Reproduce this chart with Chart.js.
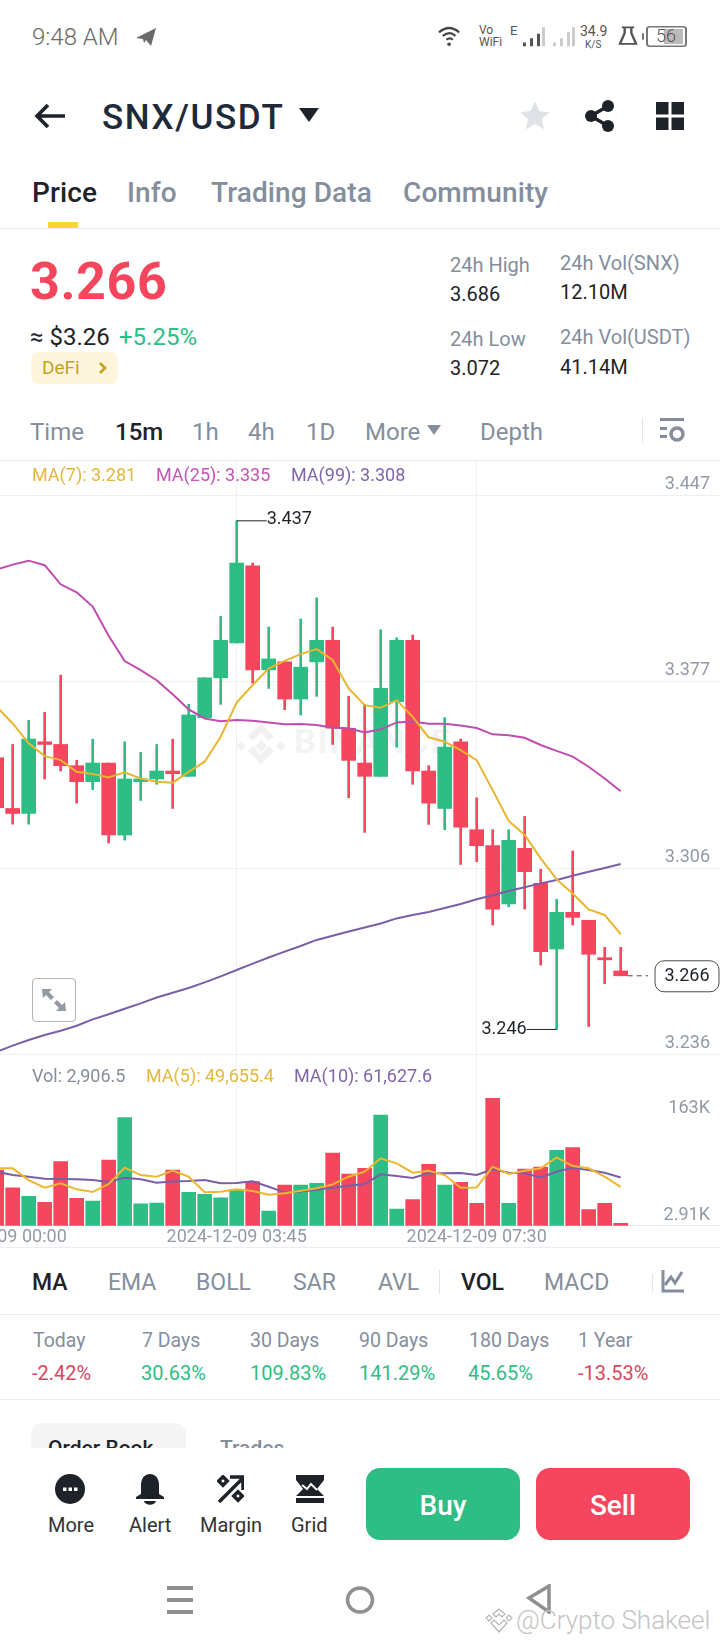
<!DOCTYPE html>
<html>
<head>
<meta charset="utf-8">
<title>SNX/USDT</title>
<script src="https://cdn.jsdelivr.net/npm/chart.js@4/dist/chart.umd.js"></script>
<style>
html,body{margin:0;padding:0;background:#fff}
body{position:relative;width:720px;height:1640px;overflow:hidden;font-family:Roboto,sans-serif;color:#1e2329}
.t{position:absolute;white-space:nowrap;transform:translateY(-50%);line-height:1.1}
.g{color:#848e9c}
.hl{position:absolute;left:0;width:720px;height:1px;background:#eaecef}
.ic{position:absolute}
.up{color:#2ebd85}
.dn{color:#d9475f}
canvas{position:absolute;left:0}
</style>
</head>
<body>

<!-- status bar -->
<div class="t" style="left:32px;top:37px;font-size:24px;color:#6a6a6a;font-weight:300">9:48 AM</div>
<svg class="ic" style="left:135px;top:26px" width="22" height="22" viewBox="0 0 22 22"><path d="M1 12 21 2 16 20 11 14 9 17 8 13z" fill="#6a6a6a"/></svg>
<svg class="ic" style="left:436px;top:25px" width="28" height="22" viewBox="0 0 28 24" fill="none" stroke="#444" stroke-width="2.4"><path d="M2 8c7-6 15-6 22 0M6 12c5-4 10-4 14 0M10 16c3-2 5-2 7 0"/><circle cx="13" cy="21" r="2" fill="#444" stroke="none"/></svg>
<div class="t" style="left:479px;top:31px;font-size:12px;color:#555">Vo</div>
<div class="t" style="left:479px;top:43px;font-size:12px;color:#555">WiFi</div>
<div class="t" style="left:510px;top:31px;font-size:13px;color:#555">E</div>
<svg class="ic" style="left:522px;top:25px" width="54" height="22" viewBox="0 0 54 30" preserveAspectRatio="none"><path d="M1 24h3v5H1zM8 18h3v11H8zM15 12h3v17h-3z" fill="#555"/><path d="M20 3h3v26h-3z" fill="#ccc"/><path d="M31 24h3v5h-3zM38 18h3v11h-3zM45 10h3v19h-3zM50 3h3v26h-3z" fill="#ccc"/></svg>
<div class="t" style="left:580px;top:32px;font-size:14px;color:#555">34.9</div>
<div class="t" style="left:585px;top:44px;font-size:10px;color:#555">K/S</div>
<svg class="ic" style="left:618px;top:26px" width="20" height="20" viewBox="0 0 21 28" preserveAspectRatio="none" fill="none" stroke="#555" stroke-width="2.5"><path d="M4 2h13M7 2v8L2 25h17L14 10V2"/></svg>
<svg class="ic" style="left:642px;top:26px" width="46" height="21" viewBox="0 0 46 29" preserveAspectRatio="none"><rect x="0" y="10" width="2" height="9" fill="#777"/><rect x="5" y="1" width="39" height="27" rx="3" fill="#fff" stroke="#777" stroke-width="2"/><rect x="22" y="4" width="19" height="21" fill="#bbb"/></svg>
<div class="t" style="left:656px;top:36px;font-size:18px;color:#555;font-weight:300">56</div>

<!-- header -->
<svg class="ic" style="left:34px;top:102px" width="32" height="28" viewBox="0 0 32 28" fill="none" stroke="#1e2329" stroke-width="3.6"><path d="M31 14H3M14 3 3 14l11 11"/></svg>
<div class="t" style="left:102px;top:118px;font-size:35px;font-weight:500;letter-spacing:1.6px;color:#1e2939">SNX/USDT</div>
<svg class="ic" style="left:299px;top:108px" width="20" height="14" viewBox="0 0 20 14"><path d="M0 0h20L10 14z" fill="#1e2329"/></svg>
<svg class="ic" style="left:519px;top:100px" width="32" height="32" viewBox="0 0 24 24"><path d="M12 1l3.3 7.3 7.7.8-5.8 5.2 1.7 7.7L12 18l-6.900 4 1.700-7.700L1 9.100l7.700-.8z" fill="#dfe2e6"/></svg>
<svg class="ic" style="left:584px;top:100px" width="32" height="32" viewBox="0 0 32 32" fill="#1e2329"><circle cx="24" cy="6" r="6"/><circle cx="24" cy="26" r="6"/><circle cx="7" cy="16" r="6"/><path d="M7 16 24 6M7 16l17 10" stroke="#1e2329" stroke-width="3.500"/></svg>
<svg class="ic" style="left:656px;top:102px" width="28" height="28" viewBox="0 0 28 28" fill="#1e2329"><rect width="12.500" height="12.500"/><rect x="15.500" width="12.500" height="12.500"/><rect y="15.500" width="12.500" height="12.500"/><rect x="15.500" y="15.500" width="12.500" height="12.500"/></svg>

<!-- tabs -->
<div class="t" style="left:32px;top:193px;font-size:28px;font-weight:500;letter-spacing:.1px">Price</div>
<div class="t g" style="left:127px;top:193px;font-size:28px;font-weight:500;letter-spacing:.1px">Info</div>
<div class="t g" style="left:211px;top:193px;font-size:28px;font-weight:500;letter-spacing:.1px">Trading Data</div>
<div class="t g" style="left:403px;top:193px;font-size:28px;font-weight:500;letter-spacing:.1px">Community</div>
<div style="position:absolute;left:48px;top:222px;width:30px;height:6px;background:#fcd535"></div>
<div class="hl" style="top:228px"></div>

<!-- ticker -->
<div class="t" style="left:30px;top:282px;font-size:52px;font-weight:700;letter-spacing:.6px;color:#f6465d">3.266</div>
<div class="t" style="left:30px;top:337px;font-size:24px;font-weight:400">≈ $3.26</div>
<div class="t" style="left:119px;top:337px;font-size:24px;font-weight:400;color:#2ebd85">+5.25%</div>
<div style="position:absolute;left:31px;top:352px;width:87px;height:32px;border-radius:8px;background:#fdf6dd"></div>
<div class="t" style="left:42px;top:368px;font-size:19px;color:#c99f1e">DeFi</div>
<svg class="ic" style="left:98px;top:361px" width="10" height="14" viewBox="0 0 10 14" fill="none" stroke="#c99f1e" stroke-width="2.600"><path d="M2 2l5 5-5 5"/></svg>
<div class="t g" style="left:450px;top:265px;font-size:20px">24h High</div>
<div class="t" style="left:450px;top:294px;font-size:20px">3.686</div>
<div class="t g" style="left:450px;top:339px;font-size:20px">24h Low</div>
<div class="t" style="left:450px;top:368px;font-size:20px">3.072</div>
<div class="t g" style="left:560px;top:263px;font-size:20px">24h Vol(SNX)</div>
<div class="t" style="left:560px;top:292px;font-size:20px">12.10M</div>
<div class="t g" style="left:560px;top:337px;font-size:20px">24h Vol(USDT)</div>
<div class="t" style="left:560px;top:367px;font-size:20px">41.14M</div>

<!-- interval row -->
<div class="t g" style="left:30px;top:432px;font-size:24px">Time</div>
<div class="t" style="left:115px;top:432px;font-size:24px;font-weight:500">15m</div>
<div class="t g" style="left:192px;top:432px;font-size:24px">1h</div>
<div class="t g" style="left:248px;top:432px;font-size:24px">4h</div>
<div class="t g" style="left:306px;top:432px;font-size:24px">1D</div>
<div class="t g" style="left:365px;top:432px;font-size:24px">More</div>
<svg class="ic" style="left:427px;top:425px" width="14" height="10" viewBox="0 0 14 10"><path d="M0 0h14L7 10z" fill="#848e9c"/></svg>
<div class="t g" style="left:480px;top:432px;font-size:24px">Depth</div>
<div style="position:absolute;left:642px;top:418px;width:1px;height:25px;background:#e3e5e8"></div>
<svg class="ic" style="left:660px;top:418px" width="25" height="26" viewBox="0 0 25 26" fill="#848e9c"><rect width="24" height="3"/><rect y="9" width="7" height="3"/><rect y="17" width="7" height="3"/><circle cx="17" cy="16" r="6" fill="none" stroke="#848e9c" stroke-width="3.500"/></svg>

<!-- chart panes, top rule and watermark sit behind the canvases -->
<div class="hl" style="top:460px"></div>
<svg class="ic" style="left:236px;top:724px" width="50" height="44" viewBox="0 0 50 44" fill="#f0f1f3"><path d="M25 0 38 12 33 17 25 9 17 17 12 12zM0 22l5-5 5 5-5 5zM40 22l5-5 5 5-5 5zM19 22l6-6 6 6-6 6zM12 27l5-5 8 8 8-8 5 5-13 14z"/></svg>
<div class="t" style="left:294px;top:742px;font-size:34px;font-weight:700;letter-spacing:2px;color:#f2f3f5">BINANCE</div>
<canvas id="priceChart" width="720" height="596" style="top:460px"></canvas>
<canvas id="volChart" width="720" height="192" style="top:1056px"></canvas>
<div class="hl" style="top:1247px"></div>

<!-- legends -->
<div class="t" style="left:32px;top:475px;font-size:18px;color:#e3b73c">MA(7): 3.281</div>
<div class="t" style="left:156px;top:475px;font-size:18px;color:#c454b5">MA(25): 3.335</div>
<div class="t" style="left:291px;top:475px;font-size:18px;color:#8065ab">MA(99): 3.308</div>
<div class="t g" style="left:32px;top:1076px;font-size:18px">Vol: 2,906.5</div>
<div class="t" style="left:146px;top:1076px;font-size:18px;color:#e3b73c">MA(5): 49,655.4</div>
<div class="t" style="left:294px;top:1076px;font-size:18px;color:#8065ab">MA(10): 61,627.6</div>

<!-- expand button -->
<div style="position:absolute;left:32px;top:978px;width:42px;height:42px;border:1px solid #aeb4bc;border-radius:4px;background:#fff"></div>
<svg class="ic" style="left:41px;top:988px" width="26" height="24" viewBox="0 0 26 24" fill="#929aa5"><path d="M1 1h10L8 4l5 5-3 3-5-5-3 3zM25 23H15l3-3-5-5 3-3 5 5 3-3z"/></svg>

<!-- indicators -->
<div class="t" style="left:32px;top:1283px;font-size:23px;font-weight:500">MA</div>
<div class="t g" style="left:108px;top:1283px;font-size:23px">EMA</div>
<div class="t g" style="left:196px;top:1283px;font-size:23px">BOLL</div>
<div class="t g" style="left:293px;top:1283px;font-size:23px">SAR</div>
<div class="t g" style="left:378px;top:1283px;font-size:23px">AVL</div>
<div style="position:absolute;left:439px;top:1270px;width:1px;height:24px;background:#e3e5e8"></div>
<div class="t" style="left:461px;top:1283px;font-size:23px;font-weight:500">VOL</div>
<div class="t g" style="left:544px;top:1283px;font-size:23px">MACD</div>
<div style="position:absolute;left:652px;top:1274px;width:1px;height:18px;background:#e3e5e8"></div>
<svg class="ic" style="left:661px;top:1270px" width="23" height="23" viewBox="0 0 23 23" fill="none" stroke="#848e9c" stroke-width="3"><path d="M2 0v21h21"/><path d="M4 15 10 7l4 6 7-11"/></svg>
<div class="hl" style="top:1314px"></div>

<!-- performance row -->
<div class="t g" style="left:33px;top:1341px;font-size:19.500px">Today</div>
<div class="t g" style="left:142px;top:1341px;font-size:19.500px">7 Days</div>
<div class="t g" style="left:250px;top:1341px;font-size:19.500px">30 Days</div>
<div class="t g" style="left:359px;top:1341px;font-size:19.500px">90 Days</div>
<div class="t g" style="left:469px;top:1341px;font-size:19.500px">180 Days</div>
<div class="t g" style="left:578px;top:1341px;font-size:19.500px">1 Year</div>
<div class="t dn" style="left:32px;top:1373px;font-size:20px">-2.42%</div>
<div class="t up" style="left:141px;top:1373px;font-size:20px">30.63%</div>
<div class="t up" style="left:250px;top:1373px;font-size:20px">109.83%</div>
<div class="t up" style="left:359px;top:1373px;font-size:20px">141.29%</div>
<div class="t up" style="left:468px;top:1373px;font-size:20px">45.65%</div>
<div class="t dn" style="left:578px;top:1373px;font-size:20px">-13.53%</div>
<div class="hl" style="top:1399px"></div>

<!-- order book tabs, cut off by the bottom bar -->
<div style="position:absolute;left:31px;top:1423px;width:155px;height:40px;border-radius:10px;background:#f5f5f5"></div>
<div class="t" style="left:48px;top:1449px;font-size:21px;font-weight:500">Order Book</div>
<div class="t g" style="left:220px;top:1449px;font-size:21px;font-weight:500">Trades</div>
<div style="position:absolute;left:0;top:1448px;width:720px;height:192px;background:#fff"></div>

<!-- bottom bar -->
<svg class="ic" style="left:55px;top:1474px" width="30" height="30" viewBox="0 0 30 30"><circle cx="15" cy="15" r="15" fill="#1e2329"/><path d="M8 13.500h3.500v3.500H8zM13.500 13.500H17v3.500h-3.500zM19 13.500h3.500v3.500H19z" fill="#fff"/></svg>
<svg class="ic" style="left:136px;top:1474px" width="28" height="31" viewBox="0 0 28 31" fill="#1e2329"><path d="M14 0c6 0 9 5 9 11v9l5 3v2H0v-2l5-3v-9C5 5 8 0 14 0zM8 27h12c-1 5-11 5-12 0z"/></svg>
<svg class="ic" style="left:217px;top:1475px" width="27" height="28" viewBox="0 0 27 28" fill="none" stroke="#1e2329" stroke-width="3.500"><path d="M2 27 25 4M13 2h13v13" stroke-width="3.500"/><rect x="3" y="3" width="6" height="6" transform="rotate(45 6 6)"/><rect x="18" y="18" width="6" height="6" transform="rotate(45 21 21)"/></svg>
<svg class="ic" style="left:296px;top:1475px" width="28" height="28" viewBox="0 0 28 28" fill="#1e2329"><path d="M0 0h28v5L21 14l7 7H0l7-7-7-9z"/><rect y="23" width="28" height="5"/><path d="M6 10l5 4 4-5 6 6" fill="none" stroke="#fff" stroke-width="2"/></svg>
<div class="t" style="left:48px;top:1525px;font-size:20px;color:#333">More</div>
<div class="t" style="left:129px;top:1525px;font-size:20px;color:#333">Alert</div>
<div class="t" style="left:200px;top:1525px;font-size:20px;color:#333">Margin</div>
<div class="t" style="left:291px;top:1525px;font-size:20px;color:#333">Grid</div>
<div style="position:absolute;left:366px;top:1468px;width:154px;height:72px;border-radius:14px;background:#2ebd85"></div>
<div style="position:absolute;left:536px;top:1468px;width:154px;height:72px;border-radius:14px;background:#f6465d"></div>
<div class="t" style="left:366px;width:154px;text-align:center;top:1506px;font-size:28px;font-weight:500;color:#fff">Buy</div>
<div class="t" style="left:536px;width:154px;text-align:center;top:1506px;font-size:28px;font-weight:500;color:#fff">Sell</div>

<!-- nav bar -->
<svg class="ic" style="left:167px;top:1586px" width="26" height="28" viewBox="0 0 26 28" fill="#8f8f8f"><rect width="26" height="4"/><rect y="12" width="26" height="4"/><rect y="24" width="26" height="4"/></svg>
<svg class="ic" style="left:345px;top:1586px" width="30" height="28" viewBox="0 0 30 28" fill="none" stroke="#8f8f8f" stroke-width="3.500"><ellipse cx="15" cy="14" rx="12.500" ry="12"/></svg>
<svg class="ic" style="left:526px;top:1584px" width="26" height="30" viewBox="0 0 26 30" fill="none" stroke="#8f8f8f" stroke-width="3.500"><path d="M23 2 3 14l20 14z"/></svg>
<svg class="ic" style="left:484px;top:1608px" width="30" height="26" viewBox="0 0 30 26" fill="none" stroke="#b5b5b5" stroke-width="1.200"><path d="M15 1l6 5-3 3-3-3-3 3-3-3zM2 10l3-3 3 3-3 3zM22 10l3-3 3 3-3 3zM7 15l3-3 5 5 5-5 3 3-8 9z"/></svg>
<div class="t" style="left:516px;top:1620px;font-size:26px;color:#c4c4c4;font-weight:300">@Crypto Shakeel</div>

<script>
'use strict';

// candles, oldest first. values
var opens = [3.3481, 3.3290, 3.3271, 3.3541, 3.3531, 3.3451, 3.3391, 3.3461, 3.3190, 3.3391,
    3.3401, 3.3431, 3.3411, 3.3632, 3.3782, 3.3913, 3.4204, 3.3812, 3.3842, 3.3702,
    3.3842, 3.3923, 3.3592, 3.3461, 3.3411, 3.3692, 3.3923, 3.3431, 3.3290, 3.3541,
    3.3210, 3.3150, 3.2931, 3.3140, 3.3008, 3.2761, 3.2899, 3.2869, 3.2728, 3.2678];
var highs = [3.3501, 3.3531, 3.3622, 3.3652, 3.3792, 3.3471, 3.3551, 3.3461, 3.3541, 3.3501,
    3.3531, 3.3551, 3.3682, 3.3782, 3.4013, 3.4373, 3.4214, 3.3973, 3.3842, 3.4003,
    3.4083, 3.3973, 3.3712, 3.3682, 3.3963, 3.3933, 3.3943, 3.3451, 3.3632, 3.3551,
    3.3330, 3.3210, 3.3210, 3.3260, 3.3061, 3.2948, 3.3130, 3.2869, 3.2767, 3.2767];
var lows = [3.3260, 3.3231, 3.3231, 3.3401, 3.3431, 3.3310, 3.3361, 3.3160, 3.3171, 3.3320,
    3.3381, 3.3290, 3.3411, 3.3632, 3.3682, 3.3913, 3.3762, 3.3742, 3.3662, 3.3642,
    3.3712, 3.3531, 3.3330, 3.3200, 3.3411, 3.3521, 3.3381, 3.3230, 3.3210, 3.3079,
    3.3090, 3.2851, 3.2920, 3.2911, 3.2700, 3.2458, 3.2851, 3.2469, 3.2630, 3.2660];
var closes = [3.3293, 3.3271, 3.3551, 3.3531, 3.3451, 3.3391, 3.3461, 3.3190, 3.3401, 3.3401,
    3.3431, 3.3421, 3.3642, 3.3782, 3.3923, 3.4214, 3.3812, 3.3853, 3.3702, 3.3822,
    3.3923, 3.3592, 3.3471, 3.3411, 3.3742, 3.3923, 3.3431, 3.3310, 3.3521, 3.3220,
    3.3150, 3.2911, 3.3170, 3.3052, 3.2751, 3.2899, 3.2880, 3.2741, 3.2720, 3.2660];

var ma7 = [3.3673, 3.3610, 3.3535, 3.3487, 3.3472, 3.3428, 3.3420, 3.3407, 3.3426, 3.3403,
    3.3391, 3.3387, 3.3428, 3.3466, 3.3560, 3.3689, 3.3755, 3.3817, 3.3846, 3.3871,
    3.3890, 3.3849, 3.3742, 3.3679, 3.3669, 3.3698, 3.3635, 3.3558, 3.3541, 3.3510,
    3.3472, 3.3359, 3.3243, 3.3190, 3.3102, 3.3023, 3.2970, 3.2910, 3.2889, 3.2817];
var ma25 = [3.4190, 3.4208, 3.4223, 3.4206, 3.4134, 3.4104, 3.4050, 3.3940, 3.3845, 3.3811,
    3.3773, 3.3720, 3.3663, 3.3629, 3.3618, 3.3623, 3.3620, 3.3614, 3.3607, 3.3608,
    3.3604, 3.3594, 3.3592, 3.3576, 3.3588, 3.3614, 3.3617, 3.3609, 3.3609, 3.3602,
    3.3593, 3.3569, 3.3566, 3.3556, 3.3529, 3.3507, 3.3485, 3.3447, 3.3403, 3.3355];
var ma99 = [3.2374, 3.2397, 3.2418, 3.2437, 3.2453, 3.2472, 3.2496, 3.2515, 3.2536, 3.2556,
    3.2578, 3.2596, 3.2614, 3.2635, 3.2658, 3.2682, 3.2706, 3.2729, 3.2751, 3.2772,
    3.2795, 3.2811, 3.2827, 3.2842, 3.2857, 3.2876, 3.2889, 3.2900, 3.2915, 3.2930,
    3.2948, 3.2963, 3.2979, 3.2993, 3.3008, 3.3021, 3.3037, 3.3052, 3.3066, 3.3081];

var volumes = [71200, 48600, 37500, 29900, 81900, 35000, 31600, 84000, 138200, 28100,
    29000, 71200, 42700, 40100, 35800, 46500, 56300, 18800, 52000, 52000,
    54200, 93000, 66100, 73400, 141600, 21300, 33300, 78500, 52000, 55400,
    28600, 163000, 28600, 72500, 75100, 96400, 99800, 20500, 28600, 2906.5];
var volMa5 = [73400, 73400, 58400, 48600, 54200, 46500, 43100, 53300, 74200, 64800,
    62700, 70400, 62700, 42700, 43500, 46500, 44400, 39700, 41400, 44800,
    47800, 52900, 62700, 69100, 86200, 79800, 67800, 70400, 64800, 48600,
    49000, 75500, 66100, 70400, 73400, 87400, 76300, 73400, 62700, 49655.4];
var volMa10 = [69100, 64800, 62700, 60100, 59700, 59300, 58400, 55900, 61400, 59300,
    55000, 56700, 57200, 58400, 54200, 54600, 56700, 49900, 42700, 43900,
    46100, 48600, 51200, 53300, 65700, 63500, 61000, 67000, 67000, 67400,
    64800, 72100, 67800, 67000, 61800, 69100, 74200, 71200, 67800, 61627.6];

var priceTicks = [3.447, 3.3767, 3.3064, 3.2362];
var priceTickLabels = ['3.447', '3.377', '3.306', '3.236'];
var timeTicks = [0, 15, 30];
var timeTickLabels = ['2024-12-09 00:00', '2024-12-09 03:45', '2024-12-09 07:30'];

var GREEN = '#2ebd85';
var RED = '#f6465d';
var GRID = '#eef0f2';
var LABEL = '#929aa5';
var FONT = 'Roboto';
var xMin = 0.208;
var xMax = 45.208;

function points(values) {
    return values.map(function (v, i) { return { x: i, y: v }; });
}

function candleColors() {
    return closes.map(function (c, i) { return c < opens[i] ? RED : GREEN; });
}

function lineSet(values, color, yAxisID, width) {
    return {
        type: 'line', data: points(values), borderColor: color, borderWidth: width,
        pointRadius: 0, tension: 0, order: 0, yAxisID: yAxisID
    };
}

// labels hang off the plot edges, keep them from squeezing it
function noPadding(s) {
    s.paddingLeft = 0;
    s.paddingRight = 0;
    s.paddingTop = 0;
    s.paddingBottom = 0;
}

// y labels are mirrored over the plot, the axis itself takes no room
function flatYAxis(s) {
    noPadding(s);
    s.width = 0;
}

function xAxis(showLabels) {
    return {
        type: 'linear', min: xMin, max: xMax, offset: false,
        afterBuildTicks: function (s) {
            s.ticks = timeTicks.map(function (v) { return { value: v }; });
        },
        afterFit: function (s) {
            noPadding(s);
            if (showLabels) s.height = 22.3;
        },
        grid: { color: GRID, drawTicks: false, offset: false },
        border: { display: showLabels, color: '#e6e8eb' },
        ticks: {
            display: showLabels, autoSkip: false, maxRotation: 0, padding: 1,
            color: LABEL, font: { family: FONT, size: 18 },
            callback: function (v, i) { return timeTickLabels[i]; }
        }
    };
}

// hi/lo leaders and the last price tag, placed through the chart scales
var priceMarks = {
    id: 'priceMarks',
    afterDatasetsDraw: function (chart) {
        var c = chart.ctx, xs = chart.scales.x, ys = chart.scales.y;
        var hiI = highs.indexOf(Math.max.apply(null, highs));
        var loI = lows.indexOf(Math.min.apply(null, lows));
        var last = closes[closes.length - 1];
        var hx = xs.getPixelForValue(hiI), hy = ys.getPixelForValue(highs[hiI]);
        var lx = xs.getPixelForValue(loI), ly = ys.getPixelForValue(lows[loI]);
        var py = ys.getPixelForValue(last);
        c.save();
        c.strokeStyle = '#1e2329';
        c.fillStyle = '#1e2329';
        c.lineWidth = 1;
        c.font = '18px ' + FONT;
        c.textBaseline = 'middle';
        c.beginPath();
        c.moveTo(hx, hy);
        c.lineTo(hx + 30, hy);
        c.moveTo(lx, ly);
        c.lineTo(lx - 30, ly);
        c.stroke();
        c.textAlign = 'left';
        c.fillText(highs[hiI].toFixed(3), hx + 30, hy - 1);
        c.textAlign = 'right';
        c.fillText(lows[loI].toFixed(3), lx - 30, ly);
        c.setLineDash([5, 4]);
        c.strokeStyle = '#474d57';
        c.beginPath();
        c.moveTo(xs.getPixelForValue(closes.length - 1) + 7, py);
        c.lineTo(648, py);
        c.stroke();
        c.setLineDash([]);
        c.beginPath();
        c.roundRect(655, py - 15, 64, 31, 9);
        c.fillStyle = '#fff';
        c.fill();
        c.stroke();
        c.fillStyle = '#1e2329';
        c.textAlign = 'center';
        c.fillText(last.toFixed(3), 687, py + 1);
        c.restore();
    }
};

new Chart(document.getElementById('priceChart'), {
    type: 'bar',
    data: {
        datasets: [
            {
                data: closes.map(function (c, i) { return { x: i, y: [opens[i], c] }; }),
                backgroundColor: candleColors(), barThickness: 14, grouped: false, order: 1
            },
            {
                data: highs.map(function (h, i) { return { x: i, y: [lows[i], h] }; }),
                backgroundColor: candleColors(), barThickness: 2, grouped: false, order: 2
            },
            lineSet(ma7, '#e8b52e', 'y', 2),
            lineSet(ma25, '#c04cb0', 'y', 2),
            lineSet(ma99, '#7b5ea7', 'y', 2)
        ]
    },
    options: {
        responsive: false,
        animation: false,
        events: [],
        layout: { padding: 0 },
        plugins: { legend: { display: false }, tooltip: { enabled: false } },
        scales: {
            x: xAxis(false),
            y: {
                position: 'right', min: 3.2358, max: 3.4602,
                afterBuildTicks: function (s) {
                    s.ticks = priceTicks.map(function (v) { return { value: v }; });
                },
                afterFit: flatYAxis,
                grid: { color: GRID, drawTicks: false },
                border: { display: false },
                ticks: {
                    mirror: true, padding: -10, labelOffset: -11, color: LABEL,
                    font: { family: FONT, size: 18 },
                    callback: function (v, i) { return priceTickLabels[i]; }
                }
            }
        }
    },
    plugins: [priceMarks]
});

// the two volume labels sit on opposite sides of their values, so each gets an axis
function volAxis(value, label, offset, min, max) {
    return {
        position: 'right', min: min, max: max,
        afterBuildTicks: function (s) { s.ticks = [{ value: value }]; },
        afterFit: flatYAxis,
        grid: { display: false, drawTicks: false },
        border: { display: false },
        ticks: {
            mirror: true, padding: -10, labelOffset: offset, color: LABEL,
            font: { family: FONT, size: 18 },
            callback: function () { return label; }
        }
    };
}

new Chart(document.getElementById('volChart'), {
    type: 'bar',
    data: {
        datasets: [
            {
                data: points(volumes), backgroundColor: candleColors(),
                barThickness: 14, grouped: false, order: 1
            },
            lineSet(volMa5, '#efb72f', 'y', 2),
            lineSet(volMa10, '#7b5ea7', 'y', 2)
        ]
    },
    options: {
        responsive: false,
        animation: false,
        events: [],
        layout: { padding: 0 },
        plugins: { legend: { display: false }, tooltip: { enabled: false } },
        scales: {
            x: xAxis(true),
            y: volAxis(163000, '163K', 10, 0, 217100),
            yLow: volAxis(2910, '2.91K', -8, 0, 217100)
        }
    }
});
</script>
</body>
</html>
